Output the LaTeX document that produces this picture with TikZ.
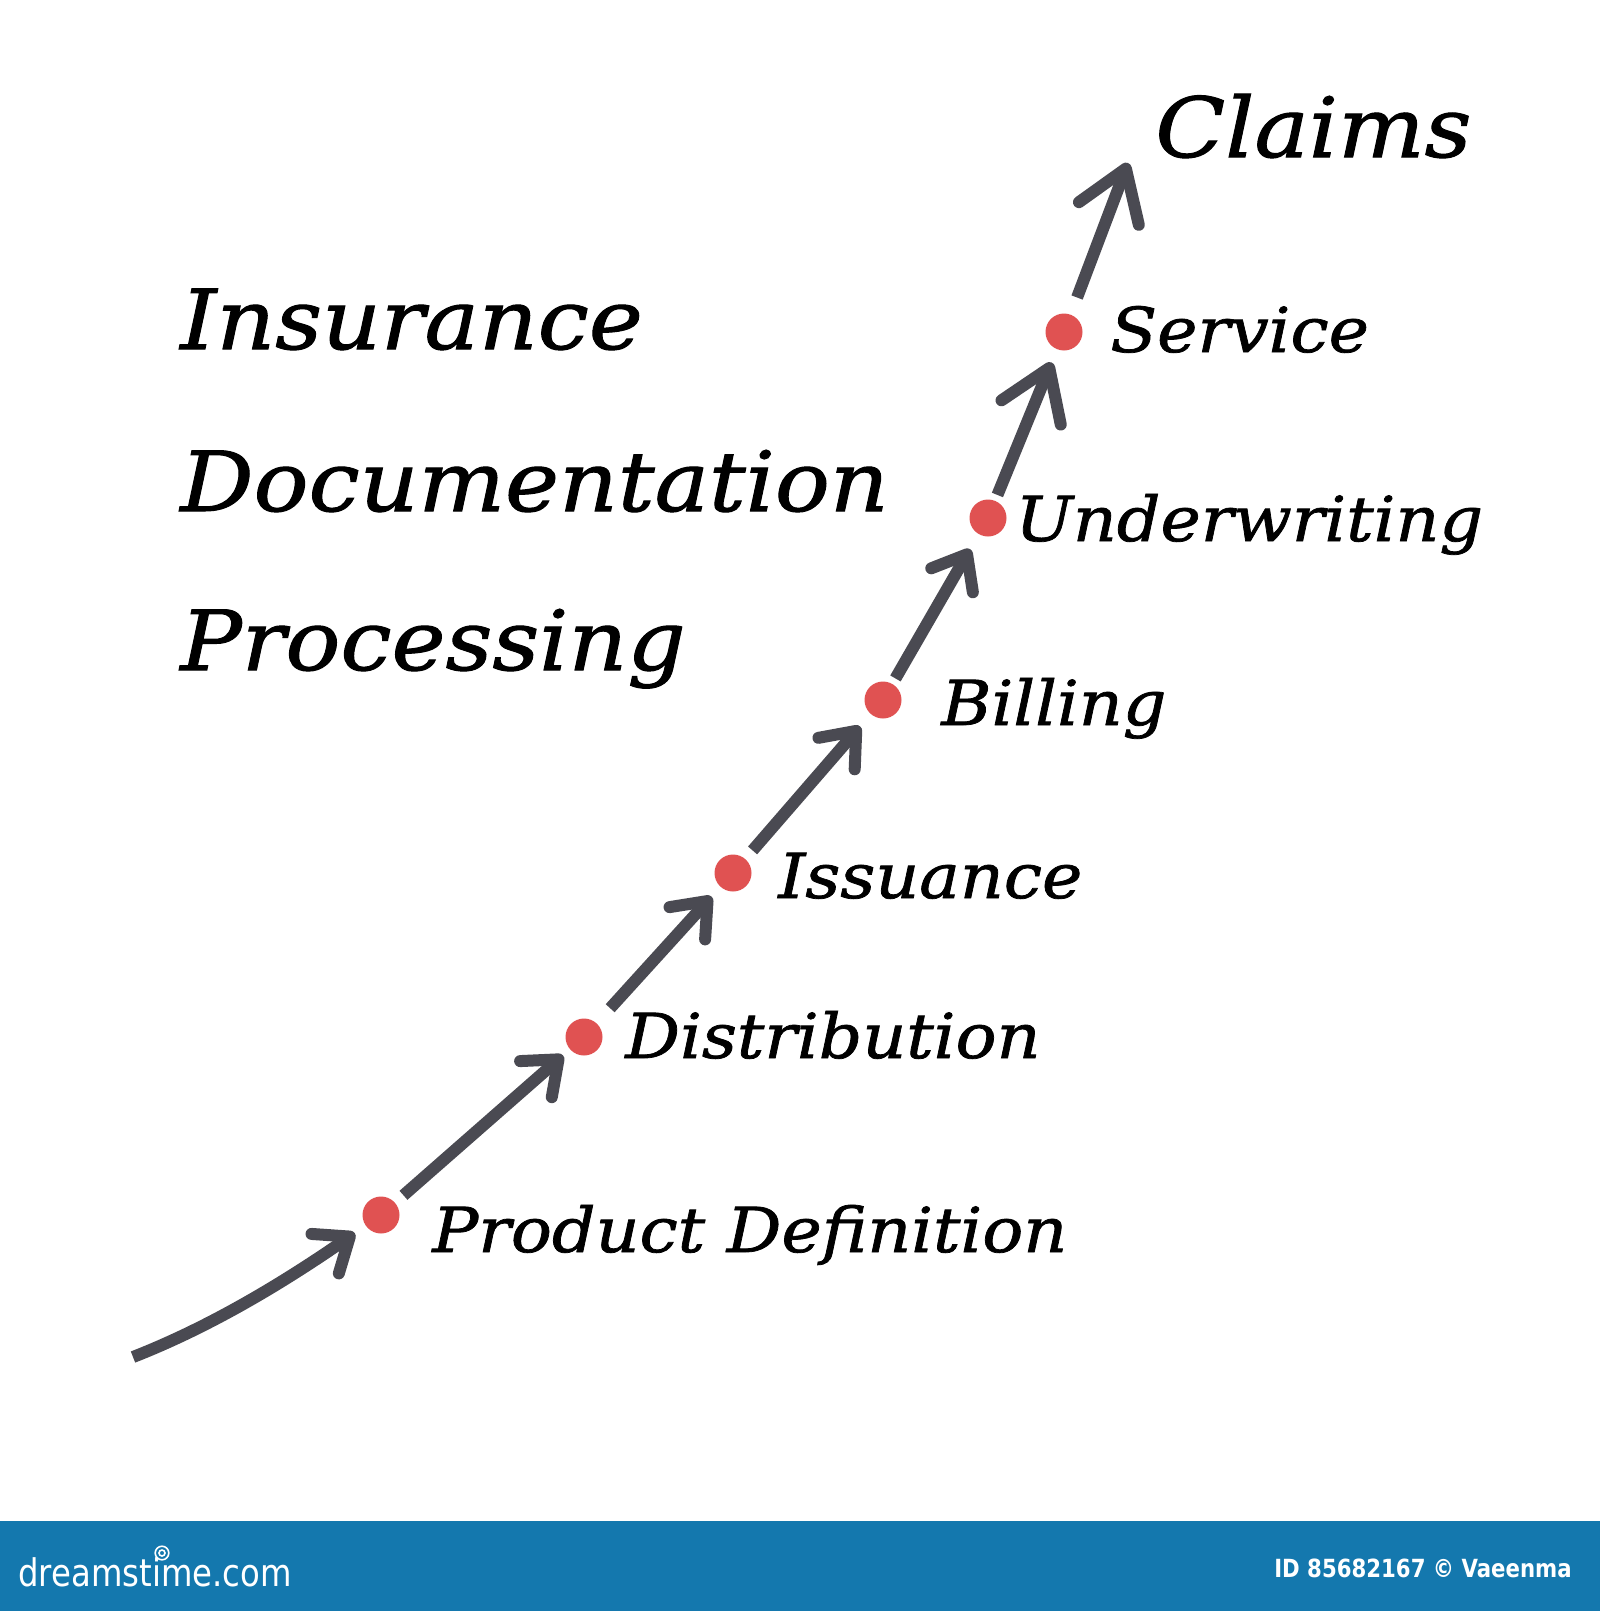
\documentclass[tikz,border=0pt]{standalone}
\usepackage{fontspec}
\usetikzlibrary{arrows.meta}
\setmainfont{DejaVu Serif}
\newfontfamily\hand[FakeStretch=1.1,FakeBold=1.2]{DejaVu Serif}
\newfontfamily\barfont[FakeStretch=0.85]{DejaVu Sans}
\definecolor{arrowgray}{HTML}{4A4A52}
\definecolor{dotred}{HTML}{E05252}
\definecolor{barblue}{HTML}{1478AE}
\begin{document}
\begin{tikzpicture}[x=0.5pt,y=-0.5pt,
  dot/.style={circle,fill=dotred,draw=none,minimum size=18.5pt,inner sep=0pt},
  conn/.style={draw=arrowgray,line width=6pt,-{Straight Barb[length=15pt,width=24pt,round]}},
  bigconn/.style={draw=arrowgray,line width=6pt,-{Straight Barb[length=24pt,width=32pt,round]}},
  lbl/.style={anchor=base west,inner sep=0pt,font=\hand\itshape\fontsize{31}{37}\selectfont},
  ttl/.style={anchor=base west,inner sep=0pt,font=\hand\itshape\fontsize{41.5}{48}\selectfont},
  bartext/.style={inner sep=0pt,text=white}]
\useasboundingbox (0,0) rectangle (1600,1611);
\fill[white] (0,0) rectangle (1600,1611);
\fill[barblue] (0,1521) rectangle (1600,1611);

% dots
\node[dot] (d1) at (381,1215) {};
\node[dot] (d2) at (584,1037) {};
\node[dot] (d3) at (733,873) {};
\node[dot] (d4) at (883,700) {};
\node[dot] (d5) at (988,518) {};
\node[dot] (d6) at (1064,332) {};
\coordinate (s0) at (133,1357);
\coordinate (c7) at (1128,163);

% connectors
\draw[conn,shorten >=6.5pt] (s0) .. controls (215,1325) and (290,1278) .. (d1);
\draw[conn,shorten <=5.5pt,shorten >=4.5pt] (d1) -- (d2);
\draw[conn,shorten <=10pt,shorten >=6.5pt] (d2) -- (d3);
\draw[conn,shorten <=5.5pt,shorten >=8pt] (d3) -- (d4);
\draw[conn,shorten <=3pt,shorten >=8.5pt] (d4) -- (d5);
\draw[bigconn,shorten <=3pt,shorten >=7pt] (d5) -- (d6);
\draw[bigconn,shorten <=9pt] (d6) -- (c7);

% titles
\node[ttl] (t1) at (180,349) {Insurance};
\node[ttl] (t2) at (180,511) {Documentation};
\node[ttl] (t3) at (180,670) {Processing};
\node[ttl] (t4) at (1155,157) {Claims};

% step labels
\node[lbl] (l6) at (1110,352) {Service};
\node[lbl] (l5) at (1015,541) {Underwriting};
\node[lbl] (l4) at (941,725) {Billing};
\node[lbl] (l3) at (778,898) {Issuance};
\node[lbl] (l2) at (625,1058) {Distribution};
\node[lbl] (l1) at (432,1252) {Product Definition};

% footer
\node[bartext,anchor=base west,font=\barfont\fontsize{19}{22}\selectfont] (site) at (18,1586) {dreamstime.com};
\draw[white,line width=0.8pt] (162,1553) circle[radius=3.4pt];
\draw[white,line width=0.8pt] (162,1553) circle[radius=1.5pt];
\node[bartext,anchor=base east,font=\barfont\bfseries\fontsize{12.5}{15}\selectfont] (id) at (1572,1577) {ID 85682167 © Vaeenma};
\end{tikzpicture}
\end{document}
